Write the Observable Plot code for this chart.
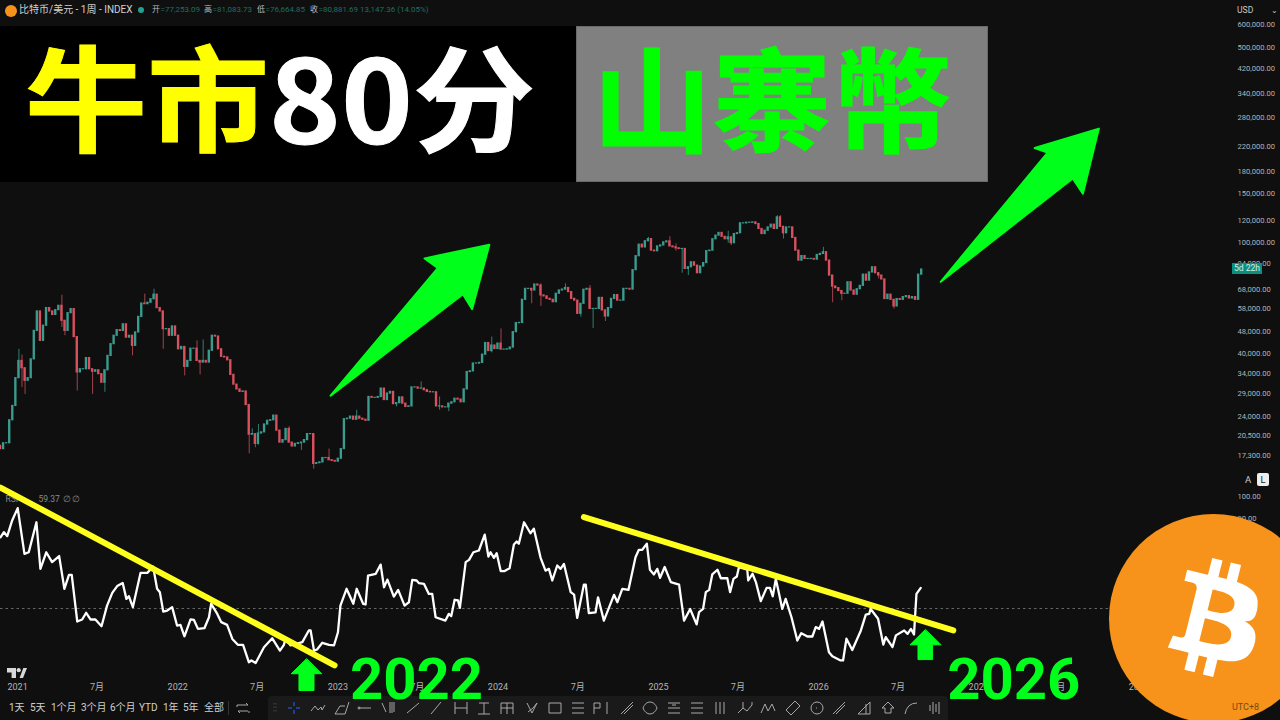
<!DOCTYPE html>
<html lang="zh">
<head>
<meta charset="utf-8">
<script src="https://cdn.jsdelivr.net/npm/d3@7"></script>
<script src="https://cdn.jsdelivr.net/npm/@observablehq/plot@0.6"></script>
<style>
html,body{margin:0;padding:0;background:#0f0f0f;}
#stage{position:relative;width:1280px;height:720px;overflow:hidden;background:#0f0f0f;font-family:"Noto Sans CJK SC","Noto Sans",sans-serif;}
#stage>*{position:absolute;}
svg{background:transparent!important;}
.banner{font-weight:700;white-space:nowrap;line-height:1;transform:scaleY(.94);-webkit-text-stroke:1px currentColor;}
</style>
</head>
<body>
<div id="stage"></div>
<script>
// Weekly closes, in thousands of USD, read from the candles (first week = 2020-11-23)
const firstOpen = 18.8;
const closes = [
18.3,19.2,19.2,23.2,26.1,32.8,37.8,35.6,32.1,32.8,38.3,48.4,56.8,44.6,50.5,58.4,56.8,55.2,57.4,59.5,
52.6,48.4,56.0,57.9,46.0,34.4,35.3,35.3,38.7,35.3,34.6,35.0,33.9,31.6,35.0,39.4,43.4,46.5,48.7,48.4,
51.1,45.8,46.5,42.8,47.8,54.3,60.6,60.3,61.0,62.8,65.2,58.4,56.8,49.1,49.1,46.5,50.2,46.5,41.6,42.4,
36.0,37.8,41.8,41.8,37.8,37.3,37.8,37.3,41.1,46.5,46.2,41.6,39.1,38.9,38.0,33.7,31.1,29.9,29.3,29.4,
26.3,20.6,20.7,19.1,20.8,21.0,22.4,23.1,23.2,24.1,21.3,19.3,19.7,21.6,19.3,18.7,19.1,19.2,19.3,19.7,
20.7,20.7,16.2,16.3,16.4,17.0,17.0,16.7,16.6,16.5,16.9,18.3,
23.4,23.5,23.9,23.3,23.9,23.5,23.3,23.1,28.1,27.9,27.9,28.1,30.1,27.4,28.9,29.3,26.5,26.7,28.0,26.6,
25.9,26.0,30.4,30.4,30.1,30.1,29.7,29.3,29.2,29.2,26.0,26.0,25.8,25.8,26.6,26.9,27.7,27.5,26.9,29.9,
34.5,34.7,37.0,37.0,37.2,39.8,43.8,41.0,42.9,41.7,43.6,41.5,41.5,41.6,42.2,47.9,51.6,51.7,62.5,68.4,
68.4,67.5,70.9,70.3,64.8,64.3,63.0,62.5,61.3,65.7,67.5,68.0,68.9,66.6,63.0,62.1,55.7,60.5,67.9,68.4,
58.0,58.0,58.0,63.5,57.3,54.5,58.4,63.0,65.0,62.1,62.1,68.4,68.4,68.0,79.8,89.5,98.4,96.2,101.2,103.0,
93.7,93.2,97.0,97.8,
100.3,101.1,97.0,96.3,95.5,95.0,95.0,80.6,81.7,85.1,82.8,77.8,82.2,84.6,93.3,93.7,102.9,106.0,108.4,105.0,
102.9,104.5,99.6,107.4,108.1,117.3,117.3,117.9,117.9,118.2,116.6,112.0,107.4,110.4,113.4,116.0,112.0,123.2,114.0,108.1,
113.4,113.4,104.0,93.7,86.3,89.6,87.5,87.5,87.5,87.0,90.4,91.2,92.5,86.3,76.3,69.7,68.8,67.2,65.7,65.7,
72.2,67.5,65.2,68.2,70.1,76.9,73.2,78.3,81.7,77.8,76.3,73.9,62.9,65.2,62.5,59.2,62.9,62.5,63.9,64.4,
63.2,63.9,62.5,76.9,80.2
];
// Visible wicks: week index, high, low (thousands of USD)
const wickWeeks = [6,7,8,20,21,25,30,34,43,47,50,53,60,64,65,66,81,82,83,84,94,98,102,107,116,129,137,143,146,160,163,173,176,184,189,192,193,197,211,218,220,222,224,237,238,253,254,255,268,271,274,286,291];
const wickHighs = [41.6,39.7,null,64.9,null,null,null,null,null,65.5,68.2,null,null,44.6,null,44.9,null,21.6,null,22.4,22,null,null,18.3,25.2,null,31.8,28.1,null,46,49.2,null,71.3,71.3,null,70.3,null,null,104.5,105,99,null,null,109.9,null,125,125,null,96.3,null,null,null,null];
const wickLows  = [null,30.4,28.7,49.8,46.5,29.5,28.7,29.2,39.4,null,null,41.6,33.4,null,33.7,null,17.6,null,18.5,18.9,null,18.1,15.5,null,null,25.9,null,25.2,24.9,40.4,null,60.5,59.2,null,54.2,null,49.4,52.3,null,null,93.3,77.8,76.3,99.6,97.7,null,null,103,null,61,62,74.2,57.9];
// RSI: week index and value
const rsiWeeks = [0,1.1,2.2,3.8,5.6,7.8,9.2,11.7,13,14.9,16.8,19.1,20.8,22.3,23.2,25,26.6,27.9,29.3,30.9,32.9,34.7,36.4,38,39.8,41,41.8,43.1,45.6,47.8,49.7,51,51.9,53,54.3,55.9,57.5,58.6,59.9,61.9,63,64.3,66.4,67.9,68.6,70.6,71.9,73.8,75.5,77.3,79,80.9,81.7,83.1,85.8,88.5,91,92.3,92.8,94.5,98.3,100.4,101,102.1,103.1,104.8,107,108.6,109.9,110.7,112.7,114.9,116,118.1,118.9,119.7,122.2,123.8,124.9,126,128.1,129.5,131.6,133,134.1,135.5,136.3,137.9,139.5,140.6,141.7,144.9,146,146.8,147.9,149,149.6,151.5,152.6,154,155.8,157.7,158.9,159.6,160.7,161.6,162.9,164.2,165.8,167.2,168.1,168.8,170.5,172.6,173.7,175.9,177.5,178.6,179.7,181.3,182.4,183.5,185.7,186.8,187.8,190,190.6,191.6,193.8,194.6,196.5,199.8,200.9,202.5,204.5,206.8,207.9,209,210.5,211.5,212.8,213.9,214.8,216.3,218.3,221,222.6,224.6,226.7,227.5,228.8,229.7,230.8,231.8,233.5,234.6,236.7,237.6,238.7,239.8,240.5,243.2,243.5,244.9,246,247.6,249.5,250.6,251.5,252.5,253.2,254.6,255.7,257.6,259.5,260.8,262.8,264.4,265.5,266.6,267.7,269.8,270.9,273.6,274.4,275.5,277.4,280.2,281.8,282.9,283.4,285.8,287.5,288.3,290.5,291.6,294.3,295.4,296.5,297.5,298.3,299.7];
const rsiValues = [81.8,84.1,82.3,89.3,94.8,74.4,75.1,88.5,67.7,75.1,70.7,73.4,58.8,65,65,44.2,45.1,48.1,45.1,45.1,42.1,51.3,57,60,61.4,54.3,55.5,50.6,65.9,65.9,68.7,58.8,57.3,48.6,49.1,50.6,42.4,42.7,37.6,45.1,44.9,40.9,41.2,46.1,52.1,47.6,43.9,42.7,36.4,33.8,33.8,26,26.8,25.7,32.7,36.7,31.2,33.8,36.4,33.5,35,40.2,40.2,31.2,31.7,34.7,33.8,33.5,39.4,51.3,58.8,52.1,58.8,52.1,51.8,64.7,65.5,69.6,59.5,62.9,55.3,58.3,51.3,52.8,62.8,62.5,61.3,61,56.5,56.5,46.1,44.6,47.6,46.6,53.9,53.6,50.3,70.7,71.7,75.1,75.9,83,73.2,75.1,72.6,74.7,66.7,66.7,68,78.6,79.9,78.9,88.5,83.6,85.6,72.6,66.9,67.7,62.5,69.2,67.7,69.9,57.3,56.2,45.8,60.7,60.7,47.9,48.3,55,44.6,56.1,52.8,58.8,58.3,72.9,76.2,76.2,78.9,67.3,65.2,67.7,63.7,68.5,61.8,60.7,44.6,49.8,42.9,48.4,49.8,57.3,58.3,65.2,67.3,63.5,63.5,57.3,63.2,64.3,68.5,67.3,62.5,65.5,61.8,53.3,59.2,59.2,55.4,63.2,58.8,49.8,54.3,46.1,35.7,39,37.5,37.5,41.7,40.9,44.2,30.5,28.7,26.8,26.8,36.5,31.5,40.2,47.3,47.6,49.8,45.4,33.9,37.2,32.8,38,40.2,38.7,40.9,38.4,56.5,59.2];
// Axis ticks
const priceTicks = [600,500,420,340,280,220,180,150,120,100,84,68,58,48,40,34,29,24,20.5,17.3];
const rsiTicks = [100,90];
const timeTicks = ["2021-01-01","2021-07-01","2022-01-01","2022-07-01","2023-01-01","2023-07-01","2024-01-01","2024-07-01","2025-01-01","2025-07-01","2026-01-01","2026-07-01","2027-01-01","2027-07-01","2028-01-01"];
// Annotations: trend lines on RSI and arrows (week index, value)
const trendA = [[0,104],[108.8,24.6]];
const trendB = [[190,90.8],[310.3,40.2]];
const bigArrowA = [[107.5,28.4],[142.4,81.2],[138.1,87.9],[159.2,98.4],[153.6,57.9],[150.6,65.5]];
const bigArrowB = [[306.2,72.5],[341,209.8],[336.8,218],[357.7,255.7],[352.5,149.7],[349.2,169.8]];
const smallArrowA = [[99.6,27.5],[94.7,20.9],[97.2,20.9],[97.2,13.4],[102.1,13.4],[102.1,20.9],[104.5,20.9]];
const smallArrowB = [[301.1,40.5],[296.2,33.8],[298.8,33.8],[298.8,27.2],[303.5,27.2],[303.5,33.8],[306.2,33.8]];
const yearLabels = [["2022",135.5,17.9],["2026",330,17.9]];
const rsiLegend = [["RSI",5],["59.37",38],["∅",62],["∅",71]];

const GREEN="#00ff1a", UP="#3a9c8e", DOWN="#d9505e", TICK="#b4b4b4";
const week = i => new Date(Date.UTC(2020,10,23) + i*7*864e5);
const dayMs = 864e5;
const xScale = {type:"utc",domain:[week(0),new Date(Date.UTC(2028,10,19))]};

const candles = closes.map((c,i)=>({i,date:week(i),open:i?closes[i-1]:firstOpen,close:c}));
const wicks = wickWeeks.map((w,k)=>{
  const c = candles[w];
  return {date:c.date,
    hi:wickHighs[k]??Math.max(c.open,c.close),
    lo:wickLows[k]??Math.min(c.open,c.close),
    up:c.close>=c.open};
});
const rsi = rsiWeeks.map((w,k)=>({date:week(w),v:rsiValues[k]}));
const pair = a => a.map(([w,v])=>({date:week(w),v}));

const pricePlot = Plot.plot({
  width:1280,height:480,margin:0,
  style:{background:"transparent",overflow:"visible"},
  x:{...xScale,range:[0,1280],axis:null},
  y:{type:"log",domain:[14.13,734],range:[480,0],axis:null},
  marks:[
    Plot.ruleX(wicks,{x:"date",y1:"lo",y2:"hi",stroke:d=>d.up?"#2f7f75":"#a3434e",strokeWidth:1}),
    Plot.rect(candles,{
      x1:d=>new Date(+d.date-2.7*dayMs),x2:d=>new Date(+d.date+2.7*dayMs),
      y1:"open",y2:"close",insetTop:-0.6,insetBottom:-0.6,
      fill:d=>d.close>=d.open?UP:DOWN}),
    Plot.line(pair(bigArrowA),{x:"date",y:"v",fill:GREEN,stroke:GREEN,strokeWidth:2,strokeLinejoin:"round",curve:"linear-closed"}),
    Plot.line(pair(bigArrowB),{x:"date",y:"v",fill:GREEN,stroke:GREEN,strokeWidth:2,strokeLinejoin:"round",curve:"linear-closed"}),
    Plot.text(priceTicks,{y:d=>d,text:d=>d3.format(",.2f")(d*1000),frameAnchor:"left",dx:1237,textAnchor:"start",
      fontSize:7.6,fill:TICK,fontFamily:"Roboto, sans-serif"})
  ]
});

const rsiPlot = Plot.plot({
  width:1280,height:240,marginTop:0,marginLeft:0,marginRight:0,marginBottom:40,
  style:{background:"transparent",overflow:"visible"},
  x:{...xScale,range:[0,1280],axis:null},
  y:{domain:[17.86,107.14],range:[200,0],axis:null},
  marks:[
    Plot.ruleY([50],{stroke:"#666",strokeDasharray:"2.5,3",strokeWidth:1,x1:week(0),x2:new Date(Date.UTC(2028,1,1))}),
    Plot.axisX({ticks:timeTicks.map(d=>new Date(d+"T00:00:00Z")),tickSize:0,tickPadding:3,
      tickFormat:d=>d.getUTCMonth()===0?String(d.getUTCFullYear()):"7月",fontSize:9,color:TICK,
      fontFamily:"Roboto, 'Noto Sans CJK SC', sans-serif",anchor:"bottom",label:null}),
    ...rsiLegend.map(([t,x])=>Plot.text([t],{frameAnchor:"top-left",dx:x,dy:15,fontSize:8.5,fill:"#8a8a8a",textAnchor:"start",fontFamily:"Roboto, sans-serif"})),
    Plot.text(rsiTicks,{y:d=>d,text:d=>d.toFixed(2),frameAnchor:"left",dx:1237,textAnchor:"start",fontSize:7.6,fill:TICK,fontFamily:"Roboto, sans-serif"}),
    Plot.line(rsi,{x:"date",y:"v",stroke:"#ffffff",strokeWidth:2.3,strokeLinejoin:"round"}),
    Plot.line(pair(trendA),{x:"date",y:"v",stroke:"#ffff1e",strokeWidth:6}),
    Plot.line(pair(trendB),{x:"date",y:"v",stroke:"#ffff1e",strokeWidth:6}),
    Plot.line(pair(smallArrowA),{x:"date",y:"v",fill:GREEN,stroke:GREEN,strokeWidth:1,curve:"linear-closed"}),
    Plot.line(pair(smallArrowB),{x:"date",y:"v",fill:GREEN,stroke:GREEN,strokeWidth:1,curve:"linear-closed"}),
    Plot.text(yearLabels,{x:d=>week(d[1]),y:d=>d[2],text:d=>d[0],fontSize:58,fontWeight:700,fill:GREEN,fontFamily:"Roboto, sans-serif"})
  ]
});

const stage = document.getElementById("stage");
const add = (css,html)=>{const d=document.createElement("div");d.style.cssText=css;d.innerHTML=html||"";stage.appendChild(d);return d;};

stage.appendChild(pricePlot);
pricePlot.style.left="0";pricePlot.style.top="0";

// Header legend
add("left:5px;top:5px;width:12px;height:12px;border-radius:50%;background:#f7931a;");
add("left:19px;top:3px;font-size:10px;color:#d0d0d0;white-space:nowrap;line-height:14px;font-family:Roboto,'Noto Sans CJK SC',sans-serif;","比特币/美元 - 1周 - INDEX");
add("left:138px;top:7px;width:6px;height:6px;border-radius:50%;background:#1fa38f;");
const ohlc=[["开","=77,253.09",152],["高","=81,083.73",204],["低","=76,664.85",257],["收","=80,881.69",310]];
const legendCss="top:3px;font-size:8px;white-space:nowrap;line-height:14px;font-family:Roboto,'Noto Sans CJK SC',sans-serif;";
ohlc.forEach(([a,b,x])=>{
  add(`left:${x}px;color:#bbb;${legendCss}`,a);
  add(`left:${x+8.5}px;color:#1c7064;${legendCss}`,b);
});
add(`left:360px;color:#1c7064;${legendCss}`,"13,147.36 (14.05%)");

// Banners
add("left:0;top:26px;width:576px;height:156px;background:#000;");
add("left:576px;top:26px;width:412px;height:156px;background:#808080;box-shadow:inset 0 0 0 1px #6a6a6a;");
const headA=add("left:25px;top:32px;font-size:122px;color:#ffff00;","牛市");headA.className="banner";
const headB=add("left:269px;top:32px;font-size:122px;color:#fff;","80分");headB.className="banner";
const alt=add("left:592px;top:34px;font-size:120px;color:#00ff00;","山寨幣");alt.className="banner";
alt.style.fontFamily='"Noto Sans CJK TC",sans-serif';

// Right axis chrome
add("left:1237px;top:5px;font-size:8.6px;color:#c8c8c8;line-height:10px;font-family:Roboto,sans-serif;","USD");
add("left:1271px;top:5px;font-size:8px;color:#c8c8c8;line-height:10px;","⌄");
add("left:1232px;top:263px;width:30px;height:11px;background:#0d8f7d;color:#d3ece6;font-size:8.6px;line-height:11px;text-align:center;font-family:Roboto,sans-serif;","5d 22h");
add("left:1245px;top:474px;font-size:9.5px;color:#ccc;line-height:12px;font-family:Roboto,sans-serif;","A");
add("left:1257px;top:473px;width:12px;height:13px;background:#eee;border-radius:2px;color:#222;font-size:9.5px;line-height:13px;text-align:center;font-family:Roboto,sans-serif;","L");

// Range bar
const rangeLabels=[["1天",9],["5天",30],["1个月",51],["3个月",81],["6个月",110],["YTD",139],["1年",163],["5年",183],["全部",204]];
rangeLabels.forEach(([t,x])=>add(`left:${x}px;top:702px;font-size:10px;line-height:12px;color:#cfcfcf;white-space:nowrap;font-family:Roboto,'Noto Sans CJK SC',sans-serif;`,t));
add("left:228px;top:701px;width:1px;height:14px;background:#333;");

// Drawing toolbar
const icons=[[243,"M-6 -3H5M3 -5L5 -3M5 3H-5M-3 5L-5 3M-6 -3V-1M6 3V5"],
[294,"M-6 0H-2M2 0H6M0 -6V-2M0 2V6"],[318,"M-7 3L-3 -2L0 2L3 -1L4 2L7 -3"],[342,"M-7 6H3L7 -6M-7 6L-2 -2H3"],[365,"M-6 0H6M-7 0a1 1 0 1 0 2 0a1 1 0 1 0 -2 0"],
[389,"M-7 -5L-3 4M1 -6V5M3 -6V5M5 -6V4"],[413,"M-6 5L6 -5"],[436,"M-5 6L5 -6"],[461,"M-6 -6V6M6 -6V6M-6 0H6"],[484,"M-6 6H6M0 6V-5M-5 -5H5"],
[507,"M-6 -5H6M-6 -5V6M6 -5V6M0 -5V6M-6 0H6"],[532,"M-5 -5L0 5L5 -5L1 0L-4 4"],[555,"M-6 -5H6V5H-6Z"],[578,"M-6 -5H6M-6 0H6M-6 5H6"],[597,"M-3 6V-5H3V0H-3"],[607,"M0 -6V6"],
[627,"M-6 6L6 -6M-3 6L6 -3"],[650,"M-7 0C-4 -8 4 -8 7 0C4 8 -4 8 -7 0"],[674,"M-6 -5H6M-6 0H6M-6 5H6M-2 -3H2"],[697,"M-6 -5H6M-6 0H6M-6 5H6"],[720,"M-4 -6V6M0 -6V6M4 -6V6"],
[745,"M-7 5L-2 0L2 3L7 -3M-2 0V-6M7 -3V-6"],[768,"M-7 5L-3 -4L0 3L4 -4L7 3"],[793,"M-7 2L2 -7L7 -2L-2 7Z"],[817,"M-6 0a6 6 0 1 0 12 0a6 6 0 1 0 -12 0M-1 0h1"],[839,"M-6 6L3 -3L6 -6M-3 6L6 -3"],
[864,"M-6 6H6V-6ZM2 -4V6"],[888,"M0 -6L6 0H3V5H-3V0H-6Z"],[911,"M-6 6Q-4 -5 6 -5"],[935,"M-5 -3V3M-2 -6V6M1 -4V4M4 -6V6"]];
add("left:268px;top:696px;width:680px;height:24px;background:#1a1a1a;border-radius:4px 4px 0 0;");
add("left:0;top:696px;width:960px;height:24px;",
 `<svg width="960" height="24" style="display:block">${icons.map(([x,p],k)=>`<path transform="translate(${x},12)" d="${p}" fill="none" stroke="${k===1?"#2962ff":"#a8a8a8"}" stroke-width="1"/>`).join("")}<path d="M274 7v9M276 7v9" stroke="#444" stroke-dasharray="1.5,2" fill="none"/></svg>`);

// TradingView mark
add("left:7px;top:660px;width:20px;height:11px;",
 `<svg width="20" height="11"><path d="M0 0H9V10H4.6V4.4H0Z" fill="#d8d8d8"/><circle cx="11.7" cy="2.2" r="2.1" fill="#d8d8d8"/><path d="M12.6 10L16.3 0H20L16 10Z" fill="#d8d8d8"/></svg>`);

stage.appendChild(rsiPlot);
rsiPlot.style.left="0";rsiPlot.style.top="480px";

// Bitcoin coin
add("left:1109px;top:514px;width:209px;height:209px;",
 `<svg viewBox="0 0 64 64" width="209" height="209"><circle cx="32" cy="32" r="32" fill="#f7931a"/><g transform="translate(4,3.4) scale(0.9)"><path fill="#fff" d="M46.103,27.444c0.637-4.258-2.605-6.547-7.038-8.074l1.438-5.768l-3.511-0.875l-1.4,5.616c-0.923-0.23-1.871-0.447-2.813-0.662l1.41-5.653l-3.509-0.875l-1.439,5.766c-0.764-0.174-1.514-0.346-2.242-0.527l0.004-0.018l-4.842-1.209l-0.934,3.75c0,0,2.605,0.597,2.55,0.634c1.422,0.355,1.679,1.296,1.636,2.042l-1.638,6.571c0.098,0.025,0.225,0.061,0.365,0.117c-0.117-0.029-0.242-0.061-0.371-0.092l-2.296,9.205c-0.174,0.432-0.615,1.08-1.609,0.834c0.035,0.051-2.552-0.637-2.552-0.637l-1.743,4.019l4.569,1.139c0.85,0.213,1.683,0.436,2.503,0.646l-1.453,5.834l3.507,0.875l1.439-5.772c0.958,0.26,1.888,0.5,2.798,0.726l-1.434,5.745l3.511,0.875l1.453-5.823c5.987,1.133,10.489,0.676,12.384-4.739c1.527-4.36-0.076-6.875-3.226-8.515C44.292,33.055,45.842,31.467,46.103,27.444z M37.076,38.021c-1.085,4.36-8.426,2.003-10.806,1.412l1.928-7.729C30.578,32.299,38.212,33.476,37.076,38.021z M38.163,27.479c-0.99,3.966-7.1,1.951-9.082,1.457l1.748-7.01C32.811,22.42,39.194,23.341,38.163,27.479z"/></g></svg>`);
add("left:1232px;top:702px;font-size:9px;color:#7a4a10;line-height:11px;font-family:Roboto,sans-serif;","UTC+8");
</script>
</body>
</html>
